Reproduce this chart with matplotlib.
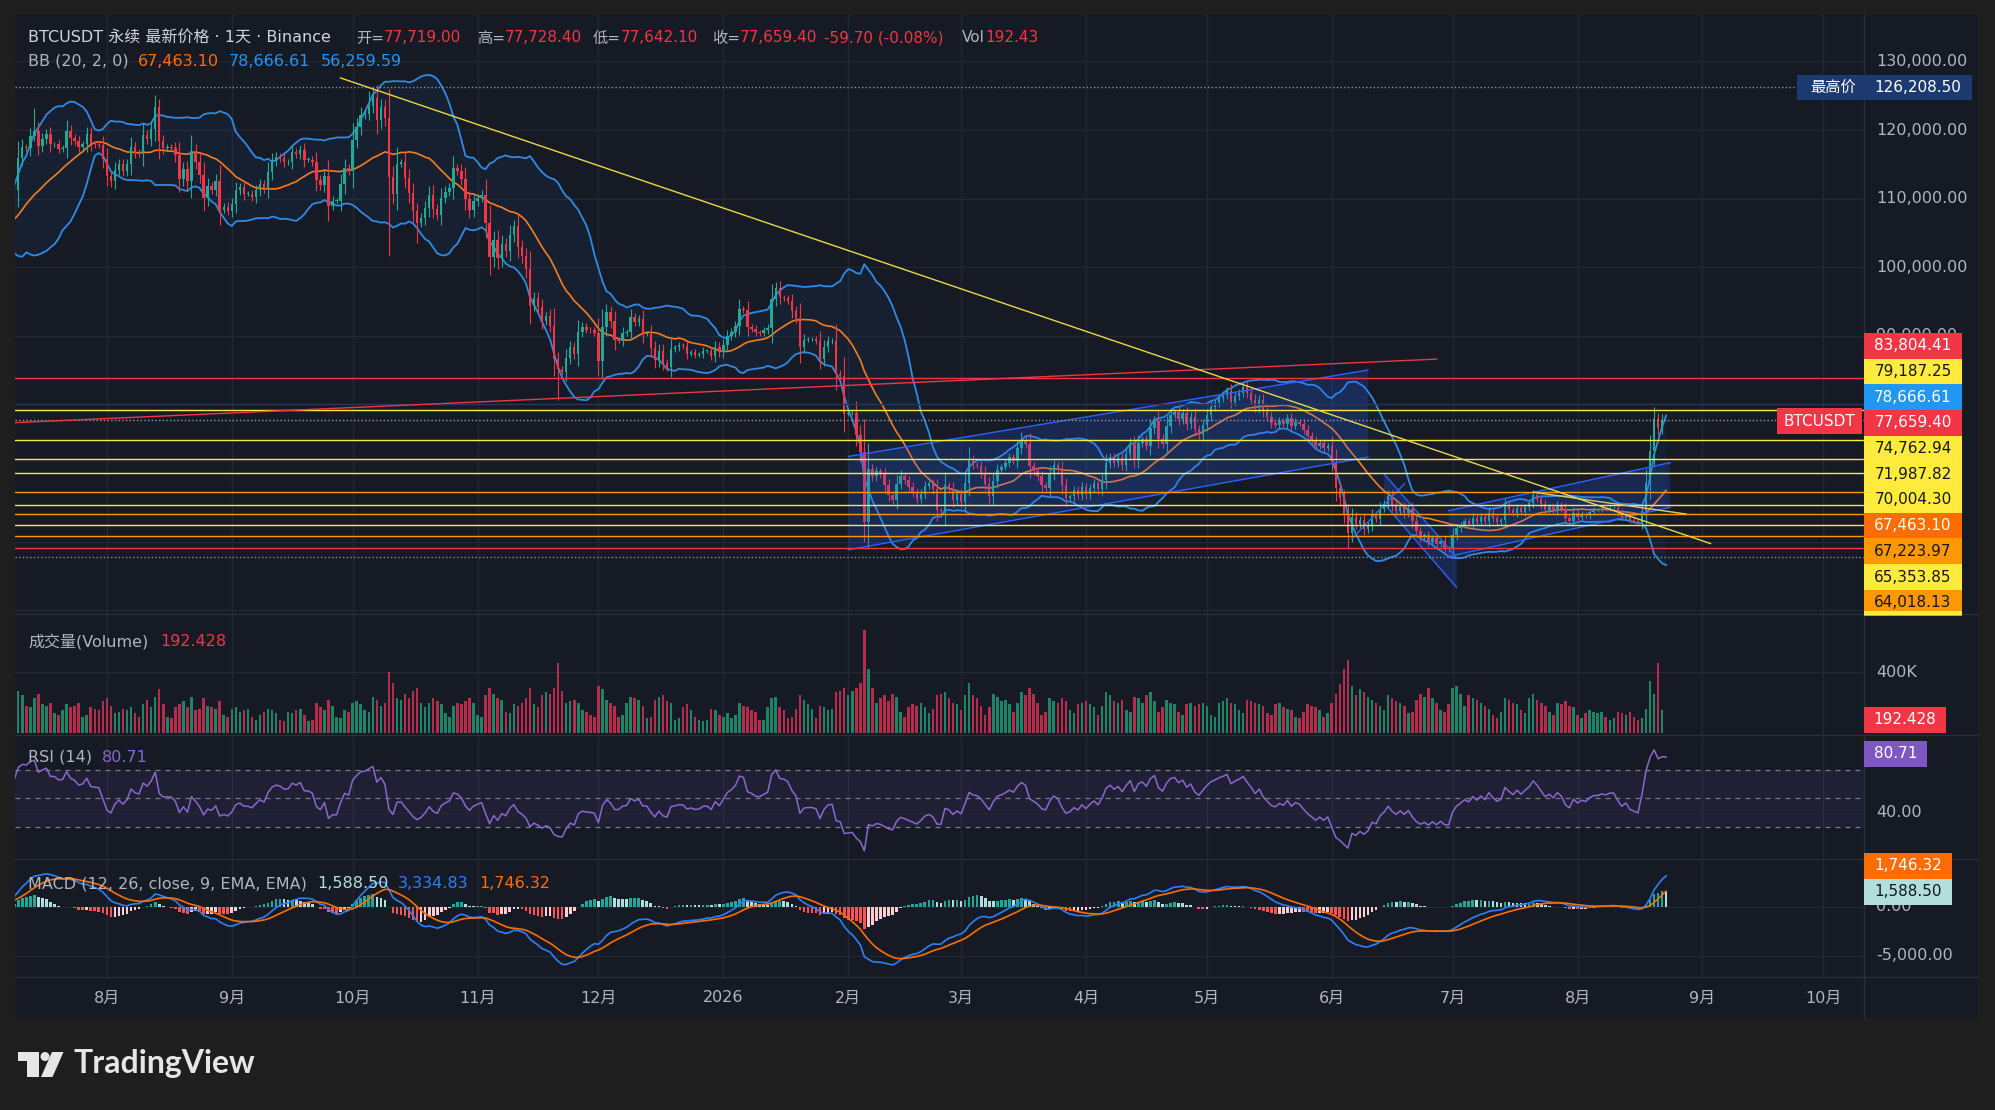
import numpy as np
import pandas as pd
import matplotlib
matplotlib.use("Agg")
import matplotlib.pyplot as plt
from matplotlib.patches import Rectangle, Polygon, Circle

plt.rcParams['font.family'] = ['DejaVu Sans', 'Noto Sans CJK SC']

# 日K收盘价 (千 USDT)，2025-06-01 起每天一根
close_jun25 = [105.7, 105.9, 105.4, 104.7, 101.6, 104.4, 105.6, 105.7, 110.3, 110.3,
               108.7, 105.9, 106.1, 105.4, 105.6, 107.0, 104.6, 104.9, 104.6, 103.3,
               102.1, 101.0, 105.4, 106.0, 107.3, 106.9, 107.1, 107.3, 108.4, 107.1]
close_jul25 = [105.7, 108.8, 109.6, 108.0, 108.2, 109.2, 108.2, 108.9, 111.3, 115.9,
               117.5, 117.4, 119.1, 119.8, 117.7, 118.7, 119.4, 117.9, 117.9, 117.3,
               117.4, 119.9, 118.8, 118.4, 117.6, 117.9, 119.4, 118.0, 117.9, 117.8, 115.8]
close_aug25 = [113.3, 112.5, 114.2, 115.0, 114.1, 115.0, 117.5, 116.7, 116.5, 119.3,
               118.7, 120.2, 123.3, 118.4, 117.4, 117.5, 117.4, 116.3, 112.9, 114.3,
               112.5, 116.9, 115.4, 113.5, 110.1, 111.8, 111.3, 112.6, 108.4, 108.8, 108.2]
close_sep25 = [109.2, 111.2, 111.7, 110.7, 110.7, 110.2, 111.2, 112.1, 111.5, 113.9,
               115.5, 116.1, 115.9, 115.3, 115.4, 116.8, 116.5, 117.1, 115.7, 115.7,
               115.3, 112.7, 112.0, 113.3, 109.0, 109.7, 109.7, 112.1, 114.4, 114.0]
close_oct25 = [118.6, 120.5, 122.2, 122.4, 123.5, 124.7, 121.4, 123.3, 121.7, 113.2,
               110.7, 115.1, 115.3, 113.0, 110.8, 108.2, 106.5, 107.2, 108.6, 110.6,
               108.5, 107.6, 110.1, 111.0, 111.6, 114.5, 114.1, 112.9, 110.0, 108.3, 109.6]
close_nov25 = [110.1, 110.6, 106.5, 101.5, 103.9, 101.3, 103.4, 102.3, 104.7, 106.0,
               103.0, 101.6, 99.7, 94.4, 95.5, 94.2, 92.2, 92.9, 91.5, 86.6,
               85.1, 84.7, 86.8, 88.3, 87.3, 90.5, 91.3, 90.9, 90.8, 90.4]
close_dec25 = [86.3, 91.3, 93.4, 92.1, 89.4, 89.3, 90.4, 90.6, 92.7, 92.0,
               92.5, 90.3, 90.3, 88.2, 86.4, 87.8, 86.1, 85.5, 88.1, 88.3,
               88.6, 88.5, 87.4, 87.6, 87.2, 87.3, 87.8, 87.8, 87.1, 88.4, 87.6]
close_jan26 = [88.7, 90.0, 90.6, 91.5, 93.9, 93.7, 91.3, 91.0, 90.5, 90.4,
               90.8, 91.2, 95.4, 97.0, 95.6, 95.5, 95.1, 93.6, 92.6, 88.3,
               89.4, 89.5, 89.5, 89.2, 86.6, 88.3, 89.2, 89.3, 84.5, 84.1, 78.6]
close_feb26 = [78.7, 78.8, 75.6, 73.0, 62.8, 70.6, 69.5, 70.3, 69.8, 68.2,
               66.8, 66.0, 68.4, 69.6, 68.9, 68.0, 67.1, 66.2, 67.0, 68.1,
               68.5, 67.6, 64.6, 64.4, 68.2, 67.7, 66.0, 66.9]
close_mar26 = [65.8, 68.5, 72.0, 71.2, 71.0, 70.0, 68.4, 66.6, 68.8, 70.4,
               70.9, 71.5, 72.3, 71.8, 73.6, 74.8, 74.2, 71.0, 70.3, 69.5,
               68.2, 67.8, 69.8, 71.1, 70.5, 68.2, 66.3, 66.6, 67.5, 66.8, 67.9]
close_apr26 = [66.9, 67.8, 68.5, 67.6, 69.0, 71.4, 72.3, 71.5, 72.2, 71.2,
               72.8, 74.2, 72.0, 74.3, 74.9, 74.0, 76.5, 77.6, 75.0, 74.2,
               76.8, 78.5, 78.9, 77.8, 78.7, 77.2, 78.2, 76.4, 75.6, 77.0]
close_may26 = [78.4, 79.6, 80.2, 80.9, 81.4, 82.0, 80.4, 81.2, 81.7, 82.5,
               81.6, 80.7, 79.6, 80.6, 79.1, 78.2, 77.3, 77.0, 77.6, 77.2,
               78.0, 76.9, 77.5, 77.2, 76.3, 75.4, 74.7, 73.9, 74.3, 73.6, 74.0]
close_jun26 = [71.6, 67.8, 66.3, 64.0, 61.2, 63.6, 62.5, 63.2, 61.8, 62.4,
               63.9, 63.3, 64.8, 65.5, 66.7, 65.3, 64.4, 65.1, 64.1, 64.8,
               63.0, 61.5, 60.6, 60.9, 60.0, 60.5, 59.6, 60.1, 59.1, 59.0]
close_jul26 = [60.9, 61.9, 62.4, 63.0, 62.6, 63.5, 62.9, 63.6, 63.0, 64.2,
               63.4, 62.8, 63.1, 65.2, 64.6, 64.1, 64.9, 64.3, 65.0, 65.6,
               66.8, 66.2, 65.4, 64.6, 65.0, 64.5, 65.3, 64.8, 63.5, 63.0, 64.2]
close_aug26 = [63.6, 64.0, 63.8, 64.3, 64.6, 64.6, 64.8, 64.7, 64.9, 64.9,
               64.2, 63.6, 63.9, 63.2, 63.0, 62.8, 64.5, 68.5, 73.2, 77.9,
               76.5, 77.719, 77.6594]

# 成交量 (千)
vol_jun25 = [150, 140, 160, 170, 260, 180, 120, 110, 200, 190, 180, 170, 230, 120, 100,
             160, 170, 150, 140, 160, 180, 200, 230, 160, 150, 120, 110, 90, 100, 140]
vol_jul25 = [150, 180, 160, 140, 120, 110, 130, 120, 200, 280, 250, 180, 170, 230, 260, 190,
             180, 200, 130, 120, 150, 190, 170, 180, 200, 110, 120, 170, 160, 150, 210]
vol_aug25 = [230, 180, 130, 140, 160, 150, 170, 130, 110, 190, 220, 170, 240, 290, 190, 110,
             100, 170, 190, 210, 170, 240, 150, 160, 230, 180, 170, 160, 210, 120, 110]
vol_sep25 = [160, 170, 140, 150, 160, 110, 90, 120, 140, 160, 150, 130, 90, 80, 140,
             130, 150, 160, 120, 80, 90, 200, 170, 150, 220, 180, 110, 100, 150, 140]
vol_oct25 = [200, 210, 190, 150, 140, 240, 220, 180, 200, 400, 330, 230, 220, 260, 230, 280,
             300, 200, 170, 200, 230, 210, 190, 130, 110, 180, 200, 190, 210, 230, 200]
vol_nov25 = [120, 110, 250, 300, 260, 230, 220, 140, 130, 190, 180, 200, 230, 300, 190,
             170, 250, 270, 260, 300, 460, 280, 200, 210, 220, 200, 150, 140, 120, 110]
vol_dec25 = [310, 290, 220, 200, 180, 110, 120, 200, 240, 230, 220, 180, 100, 110, 220, 240,
             250, 210, 200, 90, 100, 170, 190, 150, 110, 90, 80, 90, 160, 150, 120]
vol_jan26 = [110, 130, 100, 120, 200, 180, 170, 150, 140, 90, 90, 170, 230, 240, 170, 150,
             100, 110, 160, 250, 220, 190, 160, 100, 180, 170, 150, 160, 270, 280, 300]
vol_feb26 = [250, 280, 300, 330, 680, 420, 300, 200, 230, 250, 210, 260, 240, 140,
             110, 170, 190, 180, 200, 170, 130, 160, 250, 260, 270, 230, 200, 190]
vol_mar26 = [150, 250, 330, 250, 230, 180, 120, 170, 260, 240, 210, 220, 190, 140, 200, 270,
             250, 300, 260, 200, 120, 140, 230, 210, 200, 230, 210, 150, 130, 190, 200]
vol_apr26 = [210, 190, 170, 120, 180, 270, 250, 210, 200, 220, 150, 140, 240, 230, 200,
             250, 270, 210, 140, 170, 220, 200, 190, 140, 120, 190, 200, 180, 190, 200]
vol_may26 = [180, 120, 110, 200, 210, 230, 200, 190, 150, 130, 220, 210, 200, 190, 180, 130,
             120, 190, 200, 170, 160, 150, 110, 100, 140, 190, 180, 170, 150, 110, 130]
vol_jun26 = [200, 260, 320, 420, 480, 310, 250, 290, 270, 240, 220, 200, 180, 150, 250,
             230, 210, 200, 180, 130, 140, 220, 260, 240, 300, 230, 200, 150, 140, 190]
vol_jul26 = [300, 310, 260, 180, 250, 230, 220, 200, 180, 160, 120, 100, 140, 230, 220, 200,
             190, 150, 130, 230, 260, 220, 200, 180, 140, 120, 200, 190, 210, 180, 170]
vol_aug26 = [120, 100, 130, 150, 140, 130, 140, 110, 90, 100, 140, 130, 120, 140, 110, 90,
             100, 160, 340, 260, 460, 150, 0.19]

START = pd.Timestamp('2025-06-01')

# 明显的影线 (千 USDT)
wick_high = {'2025-07-14': 123.2, '2025-08-14': 124.5, '2025-10-05': 125.7, '2025-10-06': 126.2085,
             '2026-01-14': 97.9, '2026-03-16': 75.9, '2026-05-10': 83.2, '2026-08-20': 79.6,
             '2026-08-23': 77.7284}
wick_low = {'2025-10-10': 101.7, '2025-10-17': 103.5, '2025-11-04': 98.9, '2025-11-21': 80.6,
            '2026-01-31': 75.9, '2026-02-05': 60.0, '2026-06-05': 58.9, '2026-06-30': 58.4,
            '2026-08-23': 77.6421}

# 水平线 (价格, 颜色, 线型)
levels = [(126208.5, '#8a8e99', ':'), (83804.41, '#f23645', '-'), (80057, '#27345c', '-'),
          (79187.25, '#ffeb3b', '-'), (77659.40, '#9598a1', ':'), (74762.94, '#ffeb3b', '-'),
          (71987.82, '#ffeb3b', '-'), (70004.30, '#ffeb3b', '-'), (67223.97, '#ff9800', '-'),
          (65353.85, '#ffeb3b', '-'), (64018.13, '#ff9800', '-'), (62413, '#ffeb3b', '-'),
          (60765, '#ff9800', '-'), (59015, '#f23645', '-'), (57747, '#8a8e99', ':')]

# 趋势线 (起止日期, 起止价格 千)
trend_red = (['2025-07-09', '2026-06-27'], [77.33, 86.6])
trend_yellow = (['2025-09-28', '2026-09-03'], [127.6, 59.7])
trend_yellow2 = (['2026-07-21', '2026-08-28'], [67.2, 64.0])
rise_line = (['2026-06-06', '2026-06-19'], [60.4, 68.4])
# 通道 (起止日期, 上沿, 下沿)
chan_a = (['2026-02-01', '2026-06-10'], [72.4, 85.0], [58.8, 72.3])
chan_b = (['2026-06-14', '2026-07-02'], [69.85, 57.7], [65.5, 53.3])
chan_c = (['2026-06-30', '2026-08-24'], [64.5, 71.5], [57.8, 65.0])

price_tags = [('83,804.41', '#f23645', 'white'), ('79,187.25', '#ffeb3b', '#131722'),
              ('78,666.61', '#2196f3', 'white'), ('77,659.40', '#f23645', 'white'),
              ('74,762.94', '#ffeb3b', '#131722'), ('71,987.82', '#ffeb3b', '#131722'),
              ('70,004.30', '#ffeb3b', '#131722'), ('67,463.10', '#ff6d00', 'white'),
              ('67,223.97', '#ff9800', '#131722'), ('65,353.85', '#ffeb3b', '#131722'),
              ('64,018.13', '#ff9800', '#131722')]
price_ticks = [130000, 120000, 110000, 100000, 90000]
month_labels = ['8月', '9月', '10月', '11月', '12月', '2026', '2月', '3月', '4月',
                '5月', '6月', '7月', '8月', '9月', '10月']

# ---------------------------------------------------------------
W, H = 1995, 1110
BG_OUT = '#1e1e1e'
BG = '#161a25'
GRID = '#232733'
SEP = '#2a2e39'
TXT = '#b2b5be'
UP, DN = '#22ab94', '#f23645'
BBC = '#2f8ae5'
ORANGE = '#f57c1f'
PURPLE = '#8a67d0'
MACDC = '#2f7ff5'
FS = 11.5


def dx(s):
    return (pd.Timestamp(s) - START) / pd.Timedelta(days=1)


c = np.array(close_jun25 + close_jul25 + close_aug25 + close_sep25 + close_oct25 + close_nov25
             + close_dec25 + close_jan26 + close_feb26 + close_mar26 + close_apr26 + close_may26
             + close_jun26 + close_jul26 + close_aug26) * 1000
vols = np.array(vol_jun25 + vol_jul25 + vol_aug25 + vol_sep25 + vol_oct25 + vol_nov25 + vol_dec25
                + vol_jan26 + vol_feb26 + vol_mar26 + vol_apr26 + vol_may26 + vol_jun26
                + vol_jul26 + vol_aug26, dtype=float)
n = len(c)
x = np.arange(n, dtype=float)
o = np.r_[c[0], c[:-1]]
btop = np.maximum(o, c)
bbot = np.minimum(o, c)
rng = np.abs(c - o)
hi = btop + 0.45 * rng + 0.0035 * c
lo = bbot - 0.45 * rng - 0.0035 * c
for d, v in wick_high.items():
    hi[int(dx(d))] = v * 1000
for d, v in wick_low.items():
    lo[int(dx(d))] = v * 1000
up = c >= o
ccol = np.where(up, UP, DN)

# 指标
s = pd.Series(c)
basis = s.rolling(20).mean()
sd = s.rolling(20).std(ddof=0)
upper = basis + 2 * sd
lower = basis - 2 * sd
delta = s.diff()
gain = delta.clip(lower=0).ewm(alpha=1 / 14, adjust=False).mean()
loss = (-delta.clip(upper=0)).ewm(alpha=1 / 14, adjust=False).mean()
rsi = 100 - 100 / (1 + gain / loss)
macd = s.ewm(span=12, adjust=False).mean() - s.ewm(span=26, adjust=False).mean()
signal = macd.ewm(span=9, adjust=False).mean()
hist = macd - signal
prev = hist.shift(1)
hcol = np.where(hist >= 0, np.where(hist > prev, '#26a69a', '#b2dfdb'),
                np.where(hist < prev, '#ff5252', '#ffcdd2'))

XL, XR = dx('2025-07-09') + 0.2, dx('2026-10-11') + 0.1
month_x = [dx(m) for m in pd.date_range('2025-08-01', '2026-10-01', freq='MS')]

fig = plt.figure(figsize=(W / 100, H / 100), dpi=100, facecolor=BG_OUT)
fig.add_artist(Rectangle((15 / W, 1 - 1018 / H), (1978 - 15) / W, (1018 - 15) / H,
                         transform=fig.transFigure, facecolor=BG, edgecolor='none', zorder=0))

L, R = 15, 1864


def pane(top, bottom):
    ax = fig.add_axes([L / W, 1 - bottom / H, (R - L) / W, (bottom - top) / H])
    ax.set_facecolor(BG)
    ax.set_xlim(XL, XR)
    for sp in ax.spines.values():
        sp.set_visible(False)
    ax.set_xticks([])
    ax.set_yticks([])
    for m in month_x:
        ax.axvline(m, color=GRID, lw=1, zorder=0)
    return ax


axp = pane(15, 614)
axv = pane(614, 735)
axr = pane(735, 859)
axm = pane(859, 977)

# ---- 主图 ----
axp.set_ylim(49430, 136780)
for v in range(50000, 140000, 10000):
    axp.axhline(v, color=GRID, lw=1, zorder=0)
axp.fill_between(x, lower, upper, color=BBC, alpha=0.06, lw=0, zorder=1)
axp.plot(x, upper, color=BBC, lw=1.3, zorder=2)
axp.plot(x, lower, color=BBC, lw=1.3, zorder=2)
axp.plot(x, basis, color=ORANGE, lw=1.2, zorder=2)
axp.vlines(x, lo, hi, colors=ccol, lw=0.8, zorder=3)
axp.bar(x, np.maximum(rng, 60), bottom=bbot, width=0.6, color=ccol, lw=0, zorder=4)

for ch in (chan_a, chan_b, chan_c):
    (d0, d1), (u0, u1), (l0, l1) = ch
    xs = [dx(d0), dx(d1)]
    axp.add_patch(Polygon([(xs[0], u0 * 1000), (xs[1], u1 * 1000), (xs[1], l1 * 1000),
                           (xs[0], l0 * 1000)], closed=True, facecolor='#2962ff',
                          alpha=0.2, edgecolor='none', zorder=5))
    axp.plot(xs, [u0 * 1000, u1 * 1000], color='#2962ff', lw=1, zorder=5)
    axp.plot(xs, [l0 * 1000, l1 * 1000], color='#2962ff', lw=1, zorder=5)
axp.plot([dx(d) for d in rise_line[0]], np.array(rise_line[1]) * 1000, color='#2962ff', lw=1, zorder=5)

for v, col, ls in levels:
    axp.axhline(v, color=col, lw=1, ls=ls, zorder=6)
for tl, col in ((trend_red, '#f23645'), (trend_yellow, '#e8d84a'), (trend_yellow2, '#d8cc6a')):
    axp.plot([dx(d) for d in tl[0]], np.array(tl[1]) * 1000, color=col, lw=1, zorder=6)

# ---- 成交量 ----
axv.set_ylim(-11, 782)
axv.axhline(400, color=GRID, lw=1, zorder=0)
axv.bar(x, vols, width=0.62, color=np.where(up, '#1f8466', '#b52d4a'), lw=0, zorder=2)

# ---- RSI ----
axr.set_ylim(7.4, 94.7)
axr.axhspan(30, 70, color='#7e57c2', alpha=0.1, lw=0, zorder=0)
axr.axhline(40, color=GRID, lw=1, zorder=0)
for v in (70, 50, 30):
    axr.axhline(v, color='#787b86', lw=0.9, ls=(0, (4, 4)), zorder=1)
axr.plot(x, rsi, color=PURPLE, lw=1.1, zorder=2)

# ---- MACD ----
axm.set_ylim(-7204, 4939)
axm.axhline(0, color=GRID, lw=1, zorder=0)
axm.axhline(-5000, color=GRID, lw=1, zorder=0)
axm.bar(x, hist, width=0.65, color=hcol, lw=0, zorder=1)
axm.plot(x, macd, color=MACDC, lw=1.2, zorder=2)
axm.plot(x, signal, color='#ff6d00', lw=1.2, zorder=2)

# ---- 叠加层 (像素坐标) ----
ov = fig.add_axes([0, 0, 1, 1])
ov.set_zorder(10)
ov.set_xlim(0, W)
ov.set_ylim(H, 0)
ov.axis('off')
ov.patch.set_alpha(0)

for yy in (614, 735, 859, 977):
    ov.plot([15, 1978], [yy, yy], color=SEP, lw=1, zorder=1)
ov.plot([1864, 1864], [15, 1018], color=SEP, lw=1, zorder=1)

fig.canvas.draw()
ren = fig.canvas.get_renderer()


def py(ax, v):
    return H - ax.transData.transform((XL, v))[1]


def pxx(ax, v):
    return ax.transData.transform((v, 0))[0]


def chain(x0, y0, parts, size=FS, gap=0):
    for txt, col in parts:
        if txt is None:
            x0 += gap
            continue
        t = ov.text(x0, y0, txt, color=col, fontsize=size, ha='left', va='center', zorder=5)
        x0 += t.get_window_extent(renderer=ren).width


def tag(x0, x1, yc, text, bg, fg, h=25.7, size=11):
    ov.add_patch(Rectangle((x0, yc - h / 2), x1 - x0, h, facecolor=bg, edgecolor='none', zorder=8))
    ov.text((x0 + x1) / 2, yc, text, color=fg, fontsize=size, ha='center', va='center', zorder=9)


# 标题行
chain(28, 38, [('BTCUSDT 永续 最新价格 · 1天 · Binance', '#d1d4dc')])
for xx, lab, val in ((356, '开=', '77,719.00'), (477, '高=', '77,728.40'),
                     (593, '低=', '77,642.10'), (712, '收=', '77,659.40')):
    chain(xx, 38, [(lab, TXT), (val, DN)], size=11)
chain(824, 38, [('-59.70 (-0.08%)', DN)], size=11)
chain(962, 38, [('Vol', TXT), ('192.43', DN)], size=11)
chain(28, 61, [('BB (20, 2, 0)', TXT)])
chain(138, 61, [('67,463.10', '#ff6d00'), (None, None), ('78,666.61', '#2196f3'), (None, None),
                ('56,259.59', '#2196f3')], gap=10)
chain(28, 642, [('成交量(Volume)', TXT), (None, None), ('192.428', DN)], gap=12)
chain(28, 757, [('RSI (14)', TXT), (None, None), ('80.71', PURPLE)], gap=10)
chain(28, 884, [('MACD (12, 26, close, 9, EMA, EMA)', TXT), (None, None), ('1,588.50', '#b2dfdb'),
                (None, None), ('3,334.83', MACDC), (None, None), ('1,746.32', '#ff6d00')], gap=10)

# 右侧坐标
for v in price_ticks:
    ov.text(1876, py(axp, v), f'{v:,.2f}', color=TXT, fontsize=FS, ha='left', va='center', zorder=5)
ov.text(1876, py(axv, 400), '400K', color=TXT, fontsize=FS, ha='left', va='center', zorder=5)
ov.text(1876, py(axr, 40), '40.00', color=TXT, fontsize=FS, ha='left', va='center', zorder=5)
ov.text(1876, py(axm, 0), '0.00', color=TXT, fontsize=FS, ha='left', va='center', zorder=5)
ov.text(1876, py(axm, -5000), '-5,000.00', color=TXT, fontsize=FS, ha='left', va='center', zorder=5)

yc = 345.7
for txt, bg, fg in price_tags:
    tag(1864, 1962, yc, txt, bg, fg)
    yc += 25.7
ov.add_patch(Rectangle((1864, 611), 98, 3.5, facecolor='#ffeb3b', edgecolor='none', zorder=8))

ov.add_patch(Rectangle((1797, 75), 175, 25, facecolor='#1c3a70', edgecolor='none', zorder=8))
ov.text(1833, 87.5, '最高价', color='white', fontsize=11, ha='center', va='center', zorder=9)
ov.text(1918, 87.5, '126,208.50', color='white', fontsize=11, ha='center', va='center', zorder=9)
tag(1777, 1862, 421, 'BTCUSDT', '#f23645', 'white')

tag(1864, 1946, 720, '192.428', '#f23645', 'white')
tag(1864, 1927, 754, '80.71', '#7e57c2', 'white')
tag(1864, 1952, 866, '1,746.32', '#ff6d00', 'white')
tag(1864, 1952, 891.7, '1,588.50', '#b2dfdb', '#131722')

# 时间轴
for m, lab in zip(month_x, month_labels):
    ov.text(pxx(axm, m), 998, lab, color=TXT, fontsize=FS, ha='center', va='center', zorder=5)

# TradingView 标志
ov.add_patch(Rectangle((18, 1052), 20.5, 9, facecolor='#e6e6e6', edgecolor='none'))
ov.add_patch(Rectangle((27, 1052), 11.5, 25, facecolor='#e6e6e6', edgecolor='none'))
ov.add_patch(Circle((45, 1056.5), 4.5, facecolor='#e6e6e6', edgecolor='none'))
ov.add_patch(Polygon([(52, 1052), (63.5, 1052), (52.5, 1077), (41, 1077)], closed=True,
                     facecolor='#e6e6e6', edgecolor='none'))
ov.text(73, 1064, 'TradingView', color='#e6e6e6', fontsize=23, fontfamily='Lato',
        fontweight='bold', ha='left', va='center')

fig.savefig('out.png', dpi=100, facecolor=fig.get_facecolor())
